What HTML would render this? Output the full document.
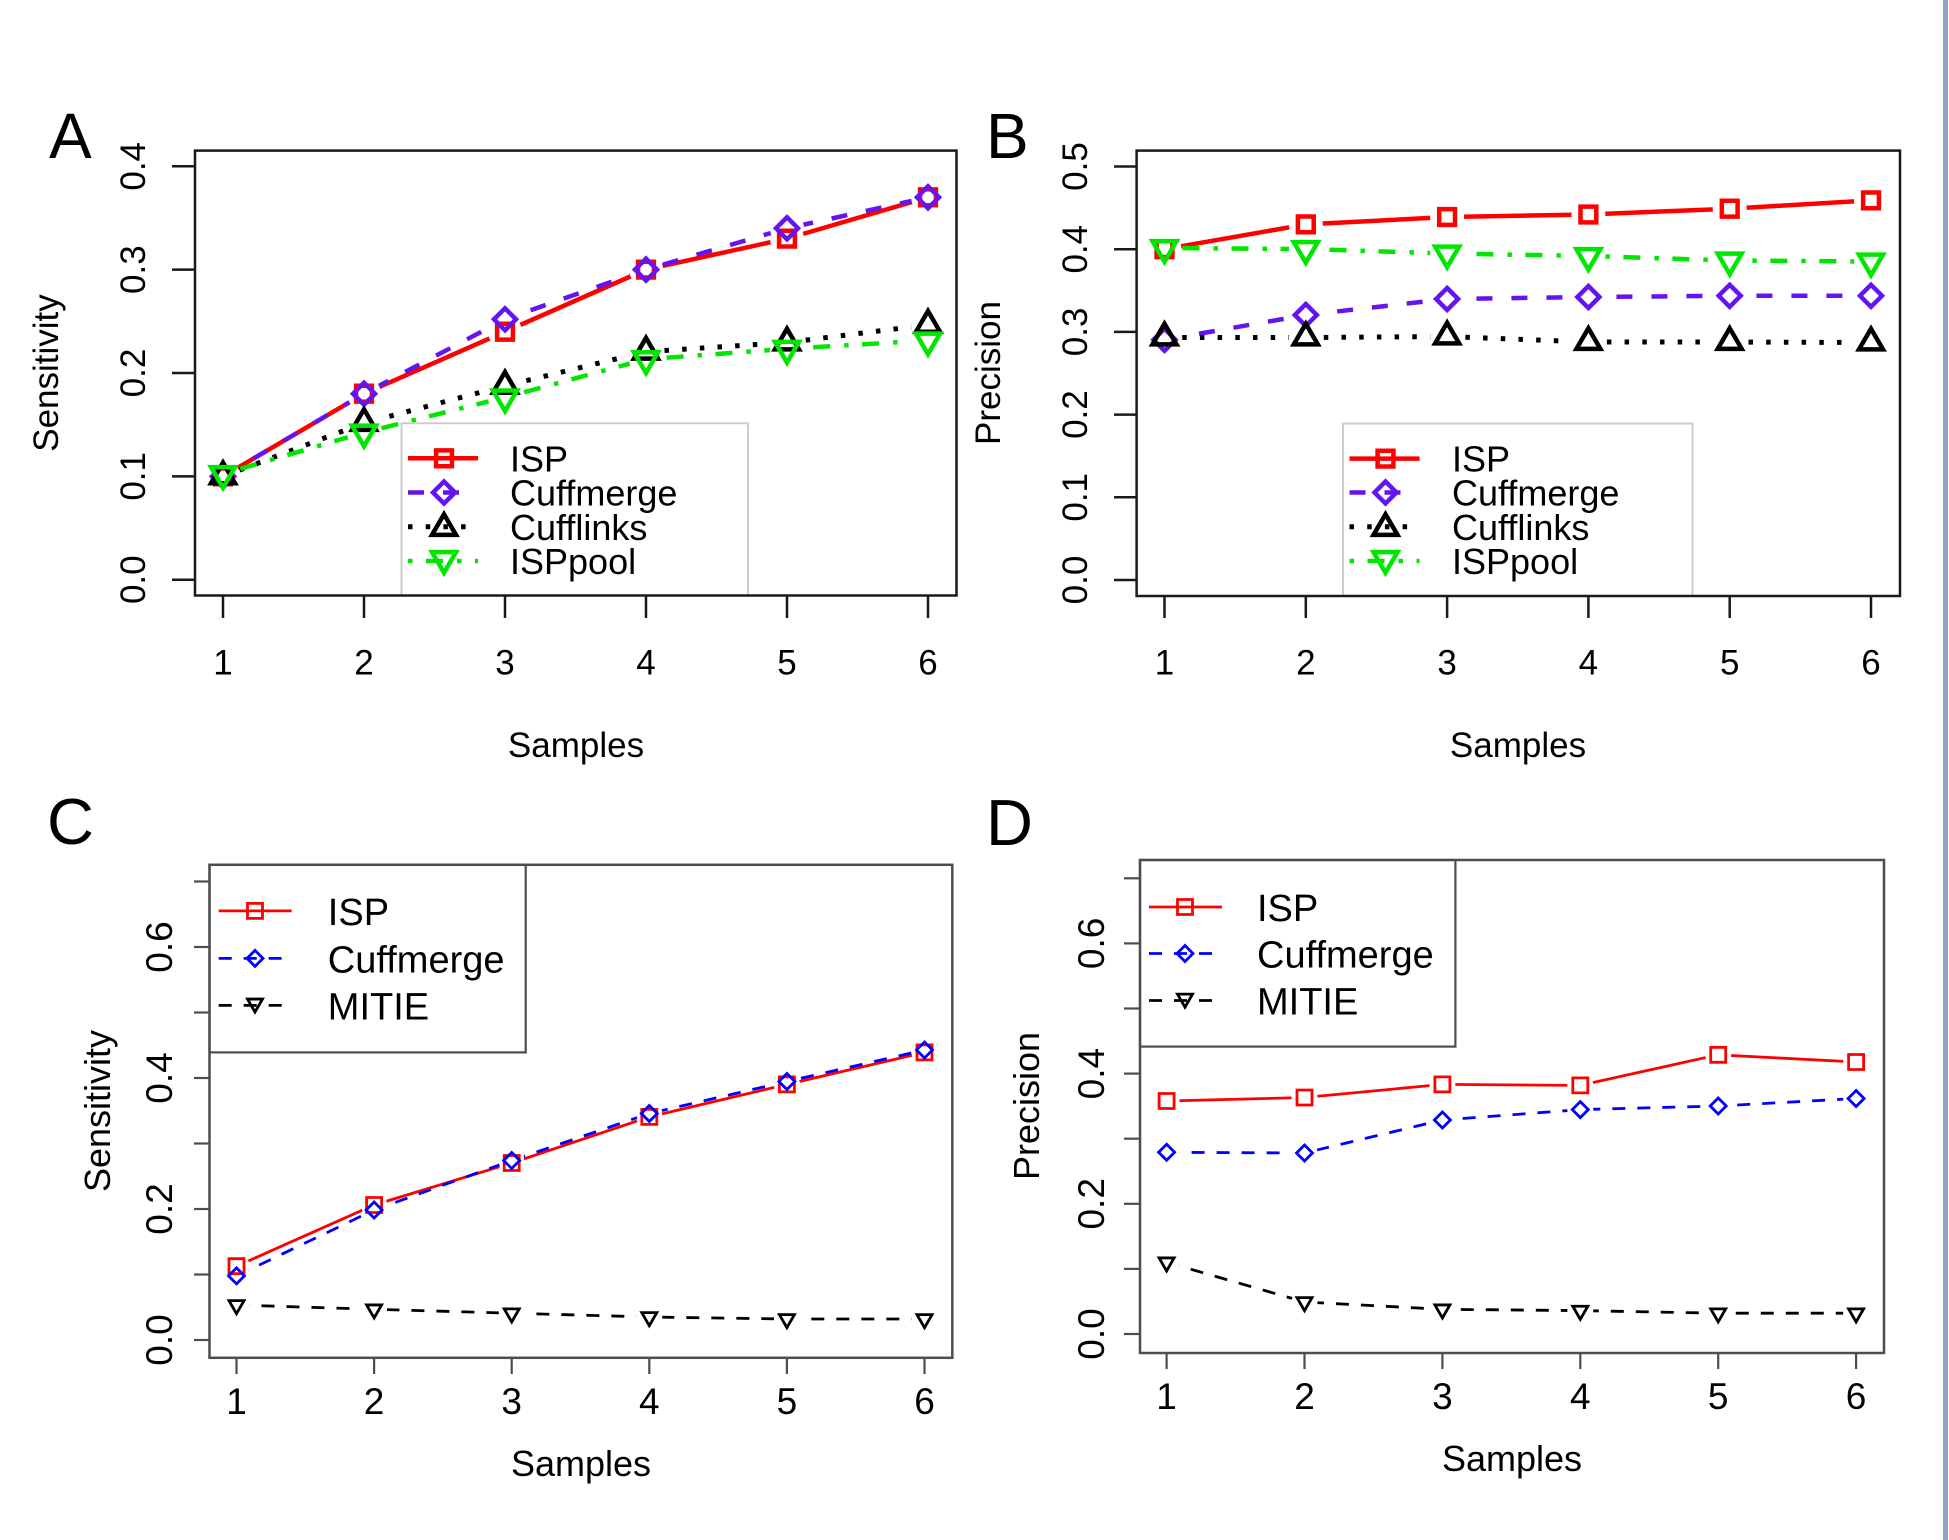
<!DOCTYPE html>
<html><head><meta charset="utf-8"><style>
html,body{margin:0;padding:0;background:#fff;}
svg{display:block;}
text{font-family:"Liberation Sans",Arial,sans-serif;fill:#000;}
</style></head><body>
<svg width="1949" height="1540" viewBox="0 0 1949 1540" xmlns="http://www.w3.org/2000/svg">
<defs>
<path id="sqL" d="M-7.9,-7.9h15.8v15.8h-15.8z" fill="none"/>
<path id="dmL" d="M0,-11L11,0L0,11L-11,0z" fill="none"/>
<path id="tuL" d="M0,-13.8L12,6.9L-12,6.9z" fill="none"/>
<path id="tdL" d="M0,13.8L12,-6.9L-12,-6.9z" fill="none"/>
<path id="sqS" d="M-7.5,-7.5h15v15h-15z" fill="none"/>
<path id="dmS" d="M0,-8L8,0L0,8L-8,0z" fill="none"/>
<path id="tdS" d="M0,8.7L7.5,-4.35L-7.5,-4.35z" fill="none"/>

<mask id="mA1" maskUnits="userSpaceOnUse" x="0" y="0" width="1949" height="1540"><rect width="1949" height="1540" fill="#fff"/><g fill="#000"><circle cx="223" cy="476.4" r="17"/><circle cx="364" cy="393.7" r="17"/><circle cx="505" cy="331.7" r="17"/><circle cx="646" cy="269.6" r="17"/><circle cx="787" cy="238.6" r="17"/><circle cx="928" cy="197.3" r="17"/></g></mask>
<mask id="mA2" maskUnits="userSpaceOnUse" x="0" y="0" width="1949" height="1540"><rect width="1949" height="1540" fill="#fff"/><g fill="#000"><circle cx="223" cy="476.4" r="17"/><circle cx="364" cy="393.7" r="17"/><circle cx="505" cy="319.3" r="17"/><circle cx="646" cy="269.6" r="17"/><circle cx="787" cy="228.3" r="17"/><circle cx="928" cy="197.3" r="17"/></g></mask>
<mask id="mA3" maskUnits="userSpaceOnUse" x="0" y="0" width="1949" height="1540"><rect width="1949" height="1540" fill="#fff"/><g fill="#000"><circle cx="223" cy="476.4" r="17"/><circle cx="364" cy="423" r="17"/><circle cx="505" cy="385.8" r="17"/><circle cx="646" cy="351.7" r="17"/><circle cx="787" cy="342.5" r="17"/><circle cx="928" cy="324.8" r="17"/></g></mask>
<mask id="mA4" maskUnits="userSpaceOnUse" x="0" y="0" width="1949" height="1540"><rect width="1949" height="1540" fill="#fff"/><g fill="#000"><circle cx="223" cy="474" r="17"/><circle cx="364" cy="432.5" r="17"/><circle cx="505" cy="397.4" r="17"/><circle cx="646" cy="359.2" r="17"/><circle cx="787" cy="348.8" r="17"/><circle cx="928" cy="340.5" r="17"/></g></mask>

<mask id="mB1" maskUnits="userSpaceOnUse" x="0" y="0" width="1949" height="1540"><rect width="1949" height="1540" fill="#fff"/><g fill="#000"><circle cx="1164.5" cy="249.2" r="17"/><circle cx="1305.8" cy="224.4" r="17"/><circle cx="1447.1" cy="217" r="17"/><circle cx="1588.4" cy="214.5" r="17"/><circle cx="1729.7" cy="208.7" r="17"/><circle cx="1871" cy="200.4" r="17"/></g></mask>
<mask id="mB2" maskUnits="userSpaceOnUse" x="0" y="0" width="1949" height="1540"><rect width="1949" height="1540" fill="#fff"/><g fill="#000"><circle cx="1164.5" cy="339.8" r="17"/><circle cx="1305.8" cy="315" r="17"/><circle cx="1447.1" cy="299" r="17"/><circle cx="1588.4" cy="297" r="17"/><circle cx="1729.7" cy="295.8" r="17"/><circle cx="1871" cy="295.8" r="17"/></g></mask>
<mask id="mB3" maskUnits="userSpaceOnUse" x="0" y="0" width="1949" height="1540"><rect width="1949" height="1540" fill="#fff"/><g fill="#000"><circle cx="1164.5" cy="337.5" r="17"/><circle cx="1305.8" cy="337.5" r="17"/><circle cx="1447.1" cy="336.5" r="17"/><circle cx="1588.4" cy="342" r="17"/><circle cx="1729.7" cy="342" r="17"/><circle cx="1871" cy="342.5" r="17"/></g></mask>
<mask id="mB4" maskUnits="userSpaceOnUse" x="0" y="0" width="1949" height="1540"><rect width="1949" height="1540" fill="#fff"/><g fill="#000"><circle cx="1164.5" cy="248" r="17"/><circle cx="1305.8" cy="249" r="17"/><circle cx="1447.1" cy="253.5" r="17"/><circle cx="1588.4" cy="256" r="17"/><circle cx="1729.7" cy="260.5" r="17"/><circle cx="1871" cy="261.5" r="17"/></g></mask>

<mask id="mC1" maskUnits="userSpaceOnUse" x="0" y="0" width="1949" height="1540"><rect width="1949" height="1540" fill="#fff"/><g fill="#000"><circle cx="236.5" cy="1266.2" r="13"/><circle cx="374.1" cy="1205" r="13"/><circle cx="511.7" cy="1163" r="13"/><circle cx="649.3" cy="1116.9" r="13"/><circle cx="786.9" cy="1084.4" r="13"/><circle cx="924.5" cy="1052.4" r="13"/></g></mask>
<mask id="mC2" maskUnits="userSpaceOnUse" x="0" y="0" width="1949" height="1540"><rect width="1949" height="1540" fill="#fff"/><g fill="#000"><circle cx="236.5" cy="1275.9" r="13"/><circle cx="374.1" cy="1210" r="13"/><circle cx="511.7" cy="1160.5" r="13"/><circle cx="649.3" cy="1113.5" r="13"/><circle cx="786.9" cy="1081.5" r="13"/><circle cx="924.5" cy="1050" r="13"/></g></mask>
<mask id="mC3" maskUnits="userSpaceOnUse" x="0" y="0" width="1949" height="1540"><rect width="1949" height="1540" fill="#fff"/><g fill="#000"><circle cx="236.5" cy="1305" r="13"/><circle cx="374.1" cy="1309.3" r="13"/><circle cx="511.7" cy="1313.2" r="13"/><circle cx="649.3" cy="1317" r="13"/><circle cx="786.9" cy="1319" r="13"/><circle cx="924.5" cy="1319" r="13"/></g></mask>

<mask id="mD1" maskUnits="userSpaceOnUse" x="0" y="0" width="1949" height="1540"><rect width="1949" height="1540" fill="#fff"/><g fill="#000"><circle cx="1166.6" cy="1101" r="13"/><circle cx="1304.5" cy="1097.5" r="13"/><circle cx="1442.4" cy="1084.4" r="13"/><circle cx="1580.3" cy="1085.4" r="13"/><circle cx="1718.2" cy="1054.8" r="13"/><circle cx="1856.1" cy="1062" r="13"/></g></mask>
<mask id="mD2" maskUnits="userSpaceOnUse" x="0" y="0" width="1949" height="1540"><rect width="1949" height="1540" fill="#fff"/><g fill="#000"><circle cx="1166.6" cy="1152.3" r="13"/><circle cx="1304.5" cy="1153" r="13"/><circle cx="1442.4" cy="1120" r="13"/><circle cx="1580.3" cy="1109.6" r="13"/><circle cx="1718.2" cy="1106" r="13"/><circle cx="1856.1" cy="1098.5" r="13"/></g></mask>
<mask id="mD3" maskUnits="userSpaceOnUse" x="0" y="0" width="1949" height="1540"><rect width="1949" height="1540" fill="#fff"/><g fill="#000"><circle cx="1166.6" cy="1262.3" r="13"/><circle cx="1304.5" cy="1302" r="13"/><circle cx="1442.4" cy="1309.3" r="13"/><circle cx="1580.3" cy="1310.6" r="13"/><circle cx="1718.2" cy="1313.2" r="13"/><circle cx="1856.1" cy="1313.2" r="13"/></g></mask>
</defs>

<rect width="1949" height="1540" fill="#fff"/>
<rect x="1943" y="0" width="5" height="1540" fill="#8fa3bd"/>

<!-- ================= PANEL A ================= -->
<text x="49" y="158" font-size="64">A</text>
<g stroke="#1a1a1a" stroke-width="2.5" fill="none">
<line x1="172" y1="579.7" x2="195" y2="579.7"/>
<line x1="172" y1="476.35" x2="195" y2="476.35"/>
<line x1="172" y1="373" x2="195" y2="373"/>
<line x1="172" y1="269.65" x2="195" y2="269.65"/>
<line x1="172" y1="166.3" x2="195" y2="166.3"/>
<line x1="223" y1="595.5" x2="223" y2="618"/>
<line x1="364" y1="595.5" x2="364" y2="618"/>
<line x1="505" y1="595.5" x2="505" y2="618"/>
<line x1="646" y1="595.5" x2="646" y2="618"/>
<line x1="787" y1="595.5" x2="787" y2="618"/>
<line x1="928" y1="595.5" x2="928" y2="618"/>
</g>
<g font-size="35" text-anchor="middle">
<text transform="translate(145,579.7) rotate(-90)">0.0</text>
<text transform="translate(145,476.35) rotate(-90)">0.1</text>
<text transform="translate(145,373) rotate(-90)">0.2</text>
<text transform="translate(145,269.65) rotate(-90)">0.3</text>
<text transform="translate(145,166.3) rotate(-90)">0.4</text>
<text x="223" y="674.5">1</text>
<text x="364" y="674.5">2</text>
<text x="505" y="674.5">3</text>
<text x="646" y="674.5">4</text>
<text x="787" y="674.5">5</text>
<text x="928" y="674.5">6</text>
<text x="576" y="757">Samples</text>
<text transform="translate(58,373) rotate(-90)">Sensitivity</text>
</g>
<!-- series A -->
<polyline mask="url(#mA1)" points="223,476.4 364,393.7 505,331.7 646,269.6 787,238.6 928,197.3" fill="none" stroke="#ff0000" stroke-width="4.5"/>
<polyline mask="url(#mA2)" points="223,476.4 364,393.7 505,319.3 646,269.6 787,228.3 928,197.3" fill="none" stroke="#6414f0" stroke-width="4.5" stroke-dasharray="16 19"/>
<polyline mask="url(#mA3)" points="223,476.4 364,423 505,385.8 646,351.7 787,342.5 928,324.8" fill="none" stroke="#000" stroke-width="5" stroke-dasharray="4.5 13.2"/>
<polyline mask="url(#mA4)" points="223,474 364,432.5 505,397.4 646,359.2 787,348.8 928,340.5" fill="none" stroke="#00e600" stroke-width="4.5" stroke-dasharray="4.5 13.5 17 14"/>
<g stroke="#ff0000" stroke-width="4.5">
<use href="#sqL" x="223" y="476.4"/><use href="#sqL" x="364" y="393.7"/><use href="#sqL" x="505" y="331.7"/><use href="#sqL" x="646" y="269.6"/><use href="#sqL" x="787" y="238.6"/><use href="#sqL" x="928" y="197.3"/>
</g>
<g stroke="#6414f0" stroke-width="4.5">
<use href="#dmL" x="223" y="476.4"/><use href="#dmL" x="364" y="393.7"/><use href="#dmL" x="505" y="319.3"/><use href="#dmL" x="646" y="269.6"/><use href="#dmL" x="787" y="228.3"/><use href="#dmL" x="928" y="197.3"/>
</g>
<g stroke="#000" stroke-width="4.5">
<use href="#tuL" x="223" y="476.4"/><use href="#tuL" x="364" y="423"/><use href="#tuL" x="505" y="385.8"/><use href="#tuL" x="646" y="351.7"/><use href="#tuL" x="787" y="342.5"/><use href="#tuL" x="928" y="324.8"/>
</g>
<g stroke="#00e600" stroke-width="4.5">
<use href="#tdL" x="223" y="474"/><use href="#tdL" x="364" y="432.5"/><use href="#tdL" x="505" y="397.4"/><use href="#tdL" x="646" y="359.2"/><use href="#tdL" x="787" y="348.8"/><use href="#tdL" x="928" y="340.5"/>
</g>
<!-- legend A -->
<rect x="401.5" y="423.3" width="346.5" height="172.2" fill="#fff" stroke="#cccccc" stroke-width="2"/>
<line x1="408" y1="458.3" x2="478" y2="458.3" stroke="#ff0000" stroke-width="4.5"/>
<use href="#sqL" x="444" y="458.3" stroke="#ff0000" stroke-width="4.5"/>
<line x1="408" y1="492.5" x2="478" y2="492.5" stroke="#6414f0" stroke-width="4.5" stroke-dasharray="16 19"/>
<use href="#dmL" x="444" y="492.5" stroke="#6414f0" stroke-width="4.5"/>
<line x1="408" y1="526.8" x2="478" y2="526.8" stroke="#000" stroke-width="5" stroke-dasharray="4.5 13.2"/>
<use href="#tuL" x="444" y="528" stroke="#000" stroke-width="4.5"/>
<line x1="408" y1="561" x2="478" y2="561" stroke="#00e600" stroke-width="4.5" stroke-dasharray="4.5 13.5 17 14"/>
<use href="#tdL" x="444" y="559" stroke="#00e600" stroke-width="4.5"/>
<g font-size="36">
<text x="510" y="471.3">ISP</text>
<text x="510" y="505.5">Cuffmerge</text>
<text x="510" y="539.8">Cufflinks</text>
<text x="510" y="574">ISPpool</text>
</g>
<rect x="195" y="150.6" width="761.5" height="444.9" fill="none" stroke="#1a1a1a" stroke-width="2.5"/>

<!-- ================= PANEL B ================= -->
<text x="986" y="158" font-size="64">B</text>
<g stroke="#1a1a1a" stroke-width="2.5" fill="none">
<line x1="1114" y1="580" x2="1136.6" y2="580"/>
<line x1="1114" y1="497.3" x2="1136.6" y2="497.3"/>
<line x1="1114" y1="414.6" x2="1136.6" y2="414.6"/>
<line x1="1114" y1="331.9" x2="1136.6" y2="331.9"/>
<line x1="1114" y1="249.2" x2="1136.6" y2="249.2"/>
<line x1="1114" y1="166.5" x2="1136.6" y2="166.5"/>
<line x1="1164.5" y1="596" x2="1164.5" y2="618"/>
<line x1="1305.8" y1="596" x2="1305.8" y2="618"/>
<line x1="1447.1" y1="596" x2="1447.1" y2="618"/>
<line x1="1588.4" y1="596" x2="1588.4" y2="618"/>
<line x1="1729.7" y1="596" x2="1729.7" y2="618"/>
<line x1="1871" y1="596" x2="1871" y2="618"/>
</g>
<g font-size="35" text-anchor="middle">
<text transform="translate(1087,580) rotate(-90)">0.0</text>
<text transform="translate(1087,497.3) rotate(-90)">0.1</text>
<text transform="translate(1087,414.6) rotate(-90)">0.2</text>
<text transform="translate(1087,331.9) rotate(-90)">0.3</text>
<text transform="translate(1087,249.2) rotate(-90)">0.4</text>
<text transform="translate(1087,166.5) rotate(-90)">0.5</text>
<text x="1164.5" y="674.5">1</text>
<text x="1305.8" y="674.5">2</text>
<text x="1447.1" y="674.5">3</text>
<text x="1588.4" y="674.5">4</text>
<text x="1729.7" y="674.5">5</text>
<text x="1871" y="674.5">6</text>
<text x="1518" y="757">Samples</text>
<text transform="translate(1000,373) rotate(-90)">Precision</text>
</g>
<polyline mask="url(#mB1)" points="1164.5,249.2 1305.8,224.4 1447.1,217 1588.4,214.5 1729.7,208.7 1871,200.4" fill="none" stroke="#ff0000" stroke-width="4.5"/>
<polyline mask="url(#mB2)" points="1164.5,339.8 1305.8,315 1447.1,299 1588.4,297 1729.7,295.8 1871,295.8" fill="none" stroke="#6414f0" stroke-width="4.5" stroke-dasharray="16 19"/>
<polyline mask="url(#mB3)" points="1164.5,337.5 1305.8,337.5 1447.1,336.5 1588.4,342 1729.7,342 1871,342.5" fill="none" stroke="#000" stroke-width="5" stroke-dasharray="4.5 13.2"/>
<polyline mask="url(#mB4)" points="1164.5,248 1305.8,249 1447.1,253.5 1588.4,256 1729.7,260.5 1871,261.5" fill="none" stroke="#00e600" stroke-width="4.5" stroke-dasharray="4.5 13.5 17 14"/>
<g stroke="#ff0000" stroke-width="4.5">
<use href="#sqL" x="1164.5" y="249.2"/><use href="#sqL" x="1305.8" y="224.4"/><use href="#sqL" x="1447.1" y="217"/><use href="#sqL" x="1588.4" y="214.5"/><use href="#sqL" x="1729.7" y="208.7"/><use href="#sqL" x="1871" y="200.4"/>
</g>
<g stroke="#6414f0" stroke-width="4.5">
<use href="#dmL" x="1164.5" y="339.8"/><use href="#dmL" x="1305.8" y="315"/><use href="#dmL" x="1447.1" y="299"/><use href="#dmL" x="1588.4" y="297"/><use href="#dmL" x="1729.7" y="295.8"/><use href="#dmL" x="1871" y="295.8"/>
</g>
<g stroke="#000" stroke-width="4.5">
<use href="#tuL" x="1164.5" y="337.5"/><use href="#tuL" x="1305.8" y="337.5"/><use href="#tuL" x="1447.1" y="336.5"/><use href="#tuL" x="1588.4" y="342"/><use href="#tuL" x="1729.7" y="342"/><use href="#tuL" x="1871" y="342.5"/>
</g>
<g stroke="#00e600" stroke-width="4.5">
<use href="#tdL" x="1164.5" y="248"/><use href="#tdL" x="1305.8" y="249"/><use href="#tdL" x="1447.1" y="253.5"/><use href="#tdL" x="1588.4" y="256"/><use href="#tdL" x="1729.7" y="260.5"/><use href="#tdL" x="1871" y="261.5"/>
</g>
<rect x="1343" y="423.6" width="349.5" height="172.4" fill="#fff" stroke="#cccccc" stroke-width="2"/>
<line x1="1349.5" y1="458.6" x2="1419.5" y2="458.6" stroke="#ff0000" stroke-width="4.5"/>
<use href="#sqL" x="1385.5" y="458.6" stroke="#ff0000" stroke-width="4.5"/>
<line x1="1349.5" y1="492.5" x2="1419.5" y2="492.5" stroke="#6414f0" stroke-width="4.5" stroke-dasharray="16 19"/>
<use href="#dmL" x="1385.5" y="492.5" stroke="#6414f0" stroke-width="4.5"/>
<line x1="1349.5" y1="526.8" x2="1419.5" y2="526.8" stroke="#000" stroke-width="5" stroke-dasharray="4.5 13.2"/>
<use href="#tuL" x="1385.5" y="528" stroke="#000" stroke-width="4.5"/>
<line x1="1349.5" y1="561" x2="1419.5" y2="561" stroke="#00e600" stroke-width="4.5" stroke-dasharray="4.5 13.5 17 14"/>
<use href="#tdL" x="1385.5" y="559" stroke="#00e600" stroke-width="4.5"/>
<g font-size="36">
<text x="1452" y="471.6">ISP</text>
<text x="1452" y="505.5">Cuffmerge</text>
<text x="1452" y="539.8">Cufflinks</text>
<text x="1452" y="574">ISPpool</text>
</g>
<rect x="1136.6" y="150.6" width="763.4" height="445.4" fill="none" stroke="#1a1a1a" stroke-width="2.5"/>

<!-- ================= PANEL C ================= -->
<text x="47" y="844" font-size="65">C</text>
<g stroke="#4d4d4d" stroke-width="2.2" fill="none">
<line x1="194" y1="1340" x2="209.5" y2="1340"/>
<line x1="194" y1="1274.5" x2="209.5" y2="1274.5"/>
<line x1="194" y1="1209" x2="209.5" y2="1209"/>
<line x1="194" y1="1143.5" x2="209.5" y2="1143.5"/>
<line x1="194" y1="1078" x2="209.5" y2="1078"/>
<line x1="194" y1="1012.5" x2="209.5" y2="1012.5"/>
<line x1="194" y1="947" x2="209.5" y2="947"/>
<line x1="194" y1="881.5" x2="209.5" y2="881.5"/>
<line x1="236.5" y1="1358" x2="236.5" y2="1374"/>
<line x1="374.1" y1="1358" x2="374.1" y2="1374"/>
<line x1="511.7" y1="1358" x2="511.7" y2="1374"/>
<line x1="649.3" y1="1358" x2="649.3" y2="1374"/>
<line x1="786.9" y1="1358" x2="786.9" y2="1374"/>
<line x1="924.5" y1="1358" x2="924.5" y2="1374"/>
</g>
<g font-size="37" text-anchor="middle">
<text transform="translate(172,1340) rotate(-90)">0.0</text>
<text transform="translate(172,1209) rotate(-90)">0.2</text>
<text transform="translate(172,1078) rotate(-90)">0.4</text>
<text transform="translate(172,947) rotate(-90)">0.6</text>
<text x="236.5" y="1414">1</text>
<text x="374.1" y="1414">2</text>
<text x="511.7" y="1414">3</text>
<text x="649.3" y="1414">4</text>
<text x="786.9" y="1414">5</text>
<text x="924.5" y="1414">6</text>
</g>
<g font-size="36" text-anchor="middle">
<text x="581" y="1476">Samples</text>
<text transform="translate(110,1111) rotate(-90)">Sensitivity</text>
</g>
<polyline mask="url(#mC1)" points="236.5,1266.2 374.1,1205 511.7,1163 649.3,1116.9 786.9,1084.4 924.5,1052.4" fill="none" stroke="#ff0000" stroke-width="2.8"/>
<polyline mask="url(#mC2)" points="236.5,1275.9 374.1,1210 511.7,1160.5 649.3,1113.5 786.9,1081.5 924.5,1050" fill="none" stroke="#0000ff" stroke-width="2.8" stroke-dasharray="13 12"/>
<polyline mask="url(#mC3)" points="236.5,1305 374.1,1309.3 511.7,1313.2 649.3,1317 786.9,1319 924.5,1319" fill="none" stroke="#000" stroke-width="2.8" stroke-dasharray="13 12"/>
<g stroke="#ff0000" stroke-width="2.8">
<use href="#sqS" x="236.5" y="1266.2"/><use href="#sqS" x="374.1" y="1205"/><use href="#sqS" x="511.7" y="1163"/><use href="#sqS" x="649.3" y="1116.9"/><use href="#sqS" x="786.9" y="1084.4"/><use href="#sqS" x="924.5" y="1052.4"/>
</g>
<g stroke="#0000ff" stroke-width="2.8">
<use href="#dmS" x="236.5" y="1275.9"/><use href="#dmS" x="374.1" y="1210"/><use href="#dmS" x="511.7" y="1160.5"/><use href="#dmS" x="649.3" y="1113.5"/><use href="#dmS" x="786.9" y="1081.5"/><use href="#dmS" x="924.5" y="1050"/>
</g>
<g stroke="#000" stroke-width="2.8">
<use href="#tdS" x="236.5" y="1305"/><use href="#tdS" x="374.1" y="1309.3"/><use href="#tdS" x="511.7" y="1313.2"/><use href="#tdS" x="649.3" y="1317"/><use href="#tdS" x="786.9" y="1319"/><use href="#tdS" x="924.5" y="1319"/>
</g>
<rect x="209.5" y="864.8" width="316.2" height="187.6" fill="#fff" stroke="#4d4d4d" stroke-width="2.2"/>
<line x1="218.7" y1="910.9" x2="291.7" y2="910.9" stroke="#ff0000" stroke-width="2.8"/>
<use href="#sqS" x="255" y="910.9" stroke="#ff0000" stroke-width="2.8"/>
<line x1="218.7" y1="958.4" x2="291.7" y2="958.4" stroke="#0000ff" stroke-width="2.8" stroke-dasharray="13 12"/>
<use href="#dmS" x="255" y="958.4" stroke="#0000ff" stroke-width="2.8"/>
<line x1="218.7" y1="1005.4" x2="291.7" y2="1005.4" stroke="#000" stroke-width="2.8" stroke-dasharray="13 12"/>
<use href="#tdS" x="255" y="1003.4" stroke="#000" stroke-width="2.8"/>
<g font-size="38">
<text x="327.8" y="925">ISP</text>
<text x="327.8" y="972.4">Cuffmerge</text>
<text x="327.8" y="1019.4">MITIE</text>
</g>
<rect x="209.5" y="864.8" width="742.8" height="493" fill="none" stroke="#4d4d4d" stroke-width="2.5"/>

<!-- ================= PANEL D ================= -->
<text x="986" y="845" font-size="65">D</text>
<g stroke="#4d4d4d" stroke-width="2.2" fill="none">
<line x1="1124" y1="1334" x2="1140" y2="1334"/>
<line x1="1124" y1="1268.9" x2="1140" y2="1268.9"/>
<line x1="1124" y1="1203.8" x2="1140" y2="1203.8"/>
<line x1="1124" y1="1138.7" x2="1140" y2="1138.7"/>
<line x1="1124" y1="1073.6" x2="1140" y2="1073.6"/>
<line x1="1124" y1="1008.5" x2="1140" y2="1008.5"/>
<line x1="1124" y1="943.4" x2="1140" y2="943.4"/>
<line x1="1124" y1="878.3" x2="1140" y2="878.3"/>
<line x1="1166.6" y1="1353" x2="1166.6" y2="1369"/>
<line x1="1304.5" y1="1353" x2="1304.5" y2="1369"/>
<line x1="1442.4" y1="1353" x2="1442.4" y2="1369"/>
<line x1="1580.3" y1="1353" x2="1580.3" y2="1369"/>
<line x1="1718.2" y1="1353" x2="1718.2" y2="1369"/>
<line x1="1856.1" y1="1353" x2="1856.1" y2="1369"/>
</g>
<g font-size="37" text-anchor="middle">
<text transform="translate(1104,1334) rotate(-90)">0.0</text>
<text transform="translate(1104,1203.8) rotate(-90)">0.2</text>
<text transform="translate(1104,1073.6) rotate(-90)">0.4</text>
<text transform="translate(1104,943.4) rotate(-90)">0.6</text>
<text x="1166.6" y="1409">1</text>
<text x="1304.5" y="1409">2</text>
<text x="1442.4" y="1409">3</text>
<text x="1580.3" y="1409">4</text>
<text x="1718.2" y="1409">5</text>
<text x="1856.1" y="1409">6</text>
</g>
<g font-size="36" text-anchor="middle">
<text x="1512" y="1471">Samples</text>
<text transform="translate(1039,1106) rotate(-90)">Precision</text>
</g>
<polyline mask="url(#mD1)" points="1166.6,1101 1304.5,1097.5 1442.4,1084.4 1580.3,1085.4 1718.2,1054.8 1856.1,1062" fill="none" stroke="#ff0000" stroke-width="2.8"/>
<polyline mask="url(#mD2)" points="1166.6,1152.3 1304.5,1153 1442.4,1120 1580.3,1109.6 1718.2,1106 1856.1,1098.5" fill="none" stroke="#0000ff" stroke-width="2.8" stroke-dasharray="13 12"/>
<polyline mask="url(#mD3)" points="1166.6,1262.3 1304.5,1302 1442.4,1309.3 1580.3,1310.6 1718.2,1313.2 1856.1,1313.2" fill="none" stroke="#000" stroke-width="2.8" stroke-dasharray="13 12"/>
<g stroke="#ff0000" stroke-width="2.8">
<use href="#sqS" x="1166.6" y="1101"/><use href="#sqS" x="1304.5" y="1097.5"/><use href="#sqS" x="1442.4" y="1084.4"/><use href="#sqS" x="1580.3" y="1085.4"/><use href="#sqS" x="1718.2" y="1054.8"/><use href="#sqS" x="1856.1" y="1062"/>
</g>
<g stroke="#0000ff" stroke-width="2.8">
<use href="#dmS" x="1166.6" y="1152.3"/><use href="#dmS" x="1304.5" y="1153"/><use href="#dmS" x="1442.4" y="1120"/><use href="#dmS" x="1580.3" y="1109.6"/><use href="#dmS" x="1718.2" y="1106"/><use href="#dmS" x="1856.1" y="1098.5"/>
</g>
<g stroke="#000" stroke-width="2.8">
<use href="#tdS" x="1166.6" y="1262.3"/><use href="#tdS" x="1304.5" y="1302"/><use href="#tdS" x="1442.4" y="1309.3"/><use href="#tdS" x="1580.3" y="1310.6"/><use href="#tdS" x="1718.2" y="1313.2"/><use href="#tdS" x="1856.1" y="1313.2"/>
</g>
<rect x="1140" y="860" width="315.4" height="186.6" fill="#fff" stroke="#4d4d4d" stroke-width="2.2"/>
<line x1="1149" y1="907" x2="1222" y2="907" stroke="#ff0000" stroke-width="2.8"/>
<use href="#sqS" x="1185" y="907" stroke="#ff0000" stroke-width="2.8"/>
<line x1="1149" y1="953.5" x2="1222" y2="953.5" stroke="#0000ff" stroke-width="2.8" stroke-dasharray="13 12"/>
<use href="#dmS" x="1185" y="953.5" stroke="#0000ff" stroke-width="2.8"/>
<line x1="1149" y1="1000.5" x2="1222" y2="1000.5" stroke="#000" stroke-width="2.8" stroke-dasharray="13 12"/>
<use href="#tdS" x="1185" y="998.5" stroke="#000" stroke-width="2.8"/>
<g font-size="38">
<text x="1257" y="921">ISP</text>
<text x="1257" y="967.5">Cuffmerge</text>
<text x="1257" y="1014.5">MITIE</text>
</g>
<rect x="1140" y="860" width="744" height="493" fill="none" stroke="#4d4d4d" stroke-width="2.5"/>
</svg>
</body></html>
